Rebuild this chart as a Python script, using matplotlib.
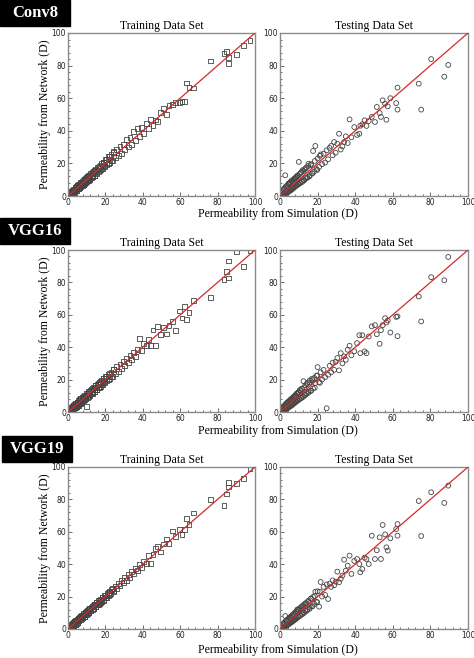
import matplotlib
matplotlib.use('Agg')
import matplotlib.pyplot as plt
from matplotlib.patches import Rectangle
from matplotlib.ticker import MultipleLocator

models = ['Conv8', 'VGG16', 'VGG19']
titles = ['Training Data Set', 'Testing Data Set']
axis_max = 100

# permeability from simulation (D), shared by the three networks
train_sim = [0.3, 0.6, 1.0, 1.2, 1.5, 1.8, 2.0, 2.3, 2.6, 3.0,
             3.2, 3.5, 3.9, 4.2, 4.5, 4.8, 5.1, 5.5, 5.8, 6.2,
             6.5, 6.9, 7.2, 7.6, 8.0, 8.3, 8.7, 9.1, 9.5, 9.9,
             10.3, 10.8, 11.2, 11.6, 12.1, 12.5, 13.0, 13.4, 13.9, 14.3,
             14.8, 15.3, 15.8, 16.3, 16.8, 17.3, 17.9, 18.4, 19.0, 19.6,
             20.2, 20.9, 21.6, 22.3, 23.0, 23.8, 24.5, 25.3, 26.1, 26.9,
             27.8, 28.6, 29.5, 30.4, 31.3, 32.2, 33.2, 34.1, 35.1, 36.1,
             37.2, 38.3, 39.4,
             40.5, 41.8, 43.0, 44.3, 45.5, 46.8, 48.0, 49.5, 51.0, 52.5,
             54.0, 55.8, 57.5, 59.5, 61.0, 62.4, 63.5, 64.7, 67.0,
             76.0, 83.4, 84.7, 86.0, 86.0, 90.0, 94.0, 97.3]
train_sim_low = [0.4, 0.9, 1.4, 1.9, 2.4, 2.9, 3.4, 3.9, 4.4, 4.9,
                 5.4, 5.9, 6.4, 6.9, 7.4, 7.9, 8.4, 8.9, 9.4, 9.9,
                 10.5, 11.1, 11.7, 12.3, 12.9, 13.5, 14.1, 14.7, 15.4, 16.1,
                 16.8, 17.5, 18.2, 19.0, 19.8, 20.6, 21.5, 22.4, 23.4, 24.5]

test_sim = [0.4, 0.8, 1.2, 1.6, 2.0, 2.4, 2.8, 3.2, 3.6, 4.0,
            4.4, 4.8, 5.2, 5.6, 6.0, 6.4, 6.8, 7.2, 7.6, 8.0,
            8.4, 8.8, 9.2, 9.6, 10.0, 10.5, 11.0, 11.5, 12.0, 12.5,
            13.0, 13.5, 14.0, 14.6, 15.2, 15.8, 16.4, 17.0, 17.6, 18.2,
            18.8, 19.4, 20.0, 20.8, 21.6, 22.4, 23.2, 24.0, 24.8, 25.6,
            26.4, 27.2, 28.0, 28.8, 29.6, 30.5, 31.4, 32.3, 33.2, 34.1,
            35.0, 36.0, 37.0, 38.0, 39.5,
            41.0, 42.2, 42.7, 43.8, 45.0, 46.0, 47.2, 48.8, 50.5, 51.5,
            53.0, 53.7, 54.6, 55.9, 56.6, 57.3, 58.7, 61.8, 62.5, 62.5,
            73.8, 75.1, 80.4, 87.4, 89.5]
test_sim_low = [0.3, 0.7, 1.1, 1.5, 1.9, 2.3, 2.7, 3.1, 3.5, 3.9,
                4.3, 4.7, 5.1, 5.5, 5.9, 6.3, 6.7, 7.1, 7.5, 7.9,
                8.3, 8.7, 9.1, 9.5, 9.9, 10.4, 10.9, 11.4, 11.9, 12.4,
                12.9, 13.6, 14.3, 15.0, 15.7, 16.5, 17.3, 18.5, 19.8, 21.2]

# permeability from network (D)
conv8_train = [1.2, 0.2, 2.1, 0.5, 2.4, 1.0, 3.1, 1.5, 3.4, 2.0,
               4.3, 2.6, 5.0, 3.2, 5.6, 3.7, 6.3, 4.4, 7.0, 5.1,
               7.8, 5.7, 8.6, 6.4, 9.4, 7.0, 10.1, 7.9, 11.0, 8.6,
               11.9, 9.4, 12.8, 10.3, 13.9, 11.0, 14.6, 12.1, 15.7, 12.8,
               16.5, 13.9, 17.6, 14.8, 18.3, 15.9, 19.8, 16.9, 20.8, 18.2,
               22.4, 19.3, 24.1, 20.8, 25.6, 22.0, 27.2, 23.4, 28.3, 24.8,
               30.6, 26.1, 31.8, 28.4, 34.6, 30.1, 35.9, 31.5, 39.4, 34.0,
               41.6, 36.5, 42.0,
               38.3, 44.5, 41.2, 47.0, 43.5, 46.6, 45.5, 51.2, 53.6, 50.0,
               55.7, 56.2, 57.6, 57.5, 57.8, 58.2, 69.3, 66.7, 66.3,
               82.8, 87.3, 88.8, 84.8, 81.4, 86.7, 92.5, 95.3]
conv8_train_low = [1.5, 0.3, 0.6, 3.0, 1.6, 4.1, 2.3, 5.2, 3.5, 6.3,
                   4.5, 7.2, 5.3, 8.4, 6.2, 9.1, 7.2, 10.4, 8.1, 11.3,
                   9.3, 12.5, 10.4, 13.5, 11.6, 14.8, 12.8, 16.0, 14.1, 17.5,
                   15.4, 18.9, 16.6, 20.6, 18.4, 22.3, 20.0, 24.1, 21.5, 26.6]

vgg16_train = [0.9, 1.8, 0.4, 2.3, 0.9, 3.0, 1.3, 3.4, 1.8, 4.1,
               2.3, 4.8, 2.9, 5.5, 3.4, 6.2, 4.0, 6.9, 4.6, 7.5,
               5.3, 8.3, 6.0, 9.0, 6.8, 9.7, 7.5, 10.5, 8.4, 3.5,
               11.6, 9.5, 12.6, 10.2, 13.6, 11.3, 14.5, 12.0, 15.3, 12.9,
               16.6, 13.8, 17.2, 15.0, 18.4, 15.8, 19.7, 17.0, 20.6, 18.3,
               21.9, 19.6, 23.4, 20.9, 24.7, 21.8, 26.2, 23.8, 27.9, 25.2,
               29.6, 27.0, 31.3, 28.6, 33.2, 30.4, 35.0, 32.3, 36.8, 34.4,
               38.6, 45.5, 38.1,
               42.5, 40.8, 45.0, 41.2, 50.6, 40.9, 53.0, 47.8, 52.0, 48.2,
               53.6, 55.9, 50.5, 62.4, 58.0, 65.3, 57.0, 61.5, 68.7,
               70.8, 81.7, 86.6, 93.2, 82.7, 98.8, 90.0, 99.6]
vgg16_train_low = [0.2, 1.6, 0.5, 2.9, 1.5, 4.0, 2.5, 5.3, 3.2, 6.1,
                   4.2, 7.4, 5.2, 8.1, 6.3, 9.2, 7.0, 10.2, 8.2, 11.4,
                   9.0, 12.6, 10.5, 13.8, 11.4, 14.9, 12.6, 16.2, 14.0, 17.6,
                   15.3, 19.0, 16.9, 20.5, 18.5, 22.1, 20.1, 24.0, 21.8, 26.4]

vgg19_train = [0.8, 1.5, 0.5, 2.0, 1.0, 2.6, 1.4, 3.1, 1.9, 3.8,
               2.4, 4.4, 3.0, 5.1, 3.6, 5.8, 4.2, 6.4, 4.9, 7.1,
               5.6, 7.9, 6.3, 8.6, 7.1, 9.3, 7.8, 10.1, 8.6, 10.9,
               9.4, 11.9, 10.3, 12.6, 11.1, 13.6, 12.0, 14.5, 12.9, 15.4,
               13.8, 16.4, 14.8, 17.4, 15.8, 18.4, 16.9, 19.6, 18.0, 20.8,
               19.3, 22.1, 20.6, 23.5, 22.0, 25.0, 23.5, 26.6, 25.2, 28.3,
               26.7, 30.0, 28.5, 31.8, 30.0, 33.6, 32.0, 35.6, 34.0, 37.5,
               36.0, 39.8, 38.2,
               41.5, 40.6, 45.5, 40.5, 46.0, 49.5, 51.0, 47.5, 52.5, 55.6,
               53.0, 60.5, 57.0, 61.2, 58.1, 61.5, 68.1, 64.5, 71.6,
               79.8, 76.4, 83.3, 90.3, 87.6, 90.0, 92.8, 99.2]
vgg19_train_low = [1.0, 0.2, 2.2, 1.0, 3.4, 1.9, 4.4, 2.8, 5.4, 3.9,
                   6.4, 4.9, 7.5, 5.9, 8.5, 6.9, 9.4, 7.9, 10.5, 8.9,
                   11.6, 10.1, 12.6, 11.3, 13.9, 12.5, 15.2, 13.6, 16.5, 15.0,
                   17.9, 16.4, 19.3, 17.8, 20.9, 19.4, 22.6, 21.1, 24.5, 23.3]

conv8_test = [1.8, 0.2, 2.9, 0.6, 4.0, 1.0, 12.7, 1.8, 5.2, 2.5,
              7.3, 3.0, 8.0, 3.9, 9.2, 4.5, 8.8, 5.4, 10.5, 6.0,
              11.2, 6.7, 12.5, 7.5, 20.9, 8.2, 14.2, 9.0, 15.8, 9.8,
              16.3, 11.0, 17.5, 11.5, 19.8, 12.8, 19.0, 14.0, 27.6, 15.0,
              30.7, 16.5, 23.0, 17.8, 25.5, 19.5, 26.0, 20.5, 28.0, 22.5,
              29.5, 30.7, 25.0, 33.1, 26.5, 32.1, 38.2, 28.5, 30.5, 33.1,
              36.6, 32.5, 47.0, 36.0, 42.3,
              37.5, 38.2, 43.1, 44.0, 46.4, 43.0, 46.0, 48.5, 45.4, 54.6,
              50.9, 48.5, 58.7, 56.6, 46.8, 55.0, 60.0, 57.0, 66.5, 53.0,
              68.9, 53.0, 84.0, 73.2, 80.4]
conv8_test_low = [0.2, 2.5, 0.4, 3.6, 0.9, 4.8, 1.2, 5.9, 1.8, 6.5,
                  2.4, 7.8, 3.0, 8.3, 3.6, 9.3, 4.4, 10.0, 5.1, 10.9,
                  5.9, 11.8, 6.6, 12.4, 7.2, 13.5, 8.0, 14.6, 8.7, 15.3,
                  9.6, 16.8, 11.0, 18.4, 12.0, 19.5, 13.8, 21.5, 16.0, 24.6]

vgg16_test = [0.5, 2.2, 0.3, 3.0, 0.8, 3.8, 1.5, 4.9, 2.0, 5.6,
              2.8, 6.5, 3.5, 7.4, 4.2, 8.0, 5.0, 9.2, 5.8, 10.0,
              6.5, 11.3, 7.2, 12.0, 8.0, 13.5, 8.8, 14.4, 9.6, 19.0,
              10.5, 16.5, 11.5, 18.0, 12.5, 19.5, 13.2, 20.5, 14.5, 21.0,
              17.9, 22.5, 27.7, 18.5, 24.5, 20.0, 26.0, 21.5, 2.3, 23.0,
              28.5, 24.5, 30.5, 26.0, 31.0, 33.3, 25.7, 36.3, 30.0, 34.3,
              32.2, 38.4, 40.9, 35.0, 37.5,
              42.5, 47.4, 36.3, 47.4, 37.4, 36.3, 46.6, 52.8, 53.6, 48.0,
              42.1, 50.5, 53.6, 57.9, 55.2, 56.5, 49.1, 58.7, 59.0, 46.8,
              71.3, 55.9, 83.2, 81.3, 95.7]
vgg16_test_low = [1.5, 0.2, 2.7, 0.5, 3.5, 0.9, 4.4, 1.6, 5.5, 2.2,
                  6.3, 2.9, 7.2, 3.5, 8.0, 4.1, 8.8, 5.0, 9.6, 5.6,
                  10.5, 6.4, 11.4, 7.1, 12.3, 7.8, 13.4, 8.6, 14.2, 9.4,
                  15.2, 10.5, 17.2, 11.8, 18.3, 13.0, 19.6, 15.0, 22.4, 18.0]

vgg19_test = [1.2, 0.3, 2.5, 0.8, 3.2, 1.2, 8.0, 2.0, 4.8, 2.6,
              5.5, 3.3, 6.4, 4.0, 7.2, 4.8, 8.0, 5.5, 8.9, 6.3,
              9.7, 7.0, 12.0, 7.8, 11.8, 8.6, 12.8, 9.5, 14.0, 10.3,
              15.2, 11.2, 16.0, 12.0, 17.0, 13.2, 18.6, 14.0, 19.8, 15.5,
              23.0, 16.8, 23.3, 13.8, 29.0, 20.0, 26.0, 21.0, 27.5, 18.5,
              28.0, 26.0, 30.0, 27.0, 29.2, 35.4, 28.8, 31.0, 33.0, 42.8,
              36.0, 39.1, 45.3, 34.0, 42.0,
              43.2, 40.1, 35.0, 37.0, 44.0, 43.2, 40.1, 57.6, 43.2, 48.6,
              56.6, 43.2, 64.2, 58.4, 50.4, 48.4, 56.0, 61.7, 64.8, 57.6,
              79.0, 57.4, 84.4, 77.8, 88.5]
vgg19_test_low = [0.1, 2.0, 0.5, 3.0, 0.8, 4.0, 1.4, 5.0, 2.1, 5.8,
                  2.6, 6.7, 3.4, 7.5, 4.0, 8.3, 4.6, 9.2, 5.4, 10.1,
                  6.0, 10.9, 6.8, 11.9, 7.5, 12.8, 8.3, 13.8, 9.1, 14.7,
                  10.0, 15.9, 11.2, 17.4, 12.4, 18.8, 14.0, 20.4, 16.5, 23.0]

net_train = [conv8_train + conv8_train_low,
             vgg16_train + vgg16_train_low,
             vgg19_train + vgg19_train_low]
net_test = [conv8_test + conv8_test_low,
            vgg16_test + vgg16_test_low,
            vgg19_test + vgg19_test_low]
sim_train = train_sim + train_sim_low
sim_test = test_sim + test_sim_low

W, H = 474, 658
fig = plt.figure(figsize=(W / 100, H / 100), dpi=100)

# axes frames in pixels: (top, bottom) per row, (left, right) per column
row_px = [(33, 196), (250, 412), (467, 629)]
col_px = [(68, 255), (280, 468)]
box_px = [(0, 0, 70, 26), (0, 218, 70, 26), (2, 436, 70, 26)]
xlabel_y = [214, 431, 650]

serif = 'Liberation Serif'

for r, model in enumerate(models):
    top, bot = row_px[r]
    for c in range(2):
        left, right = col_px[c]
        ax = fig.add_axes([left / W, 1 - bot / H, (right - left) / W, (bot - top) / H])
        if c == 0:
            xs, ys, mk = sim_train, net_train[r], 's'
        else:
            xs, ys, mk = sim_test, net_test[r], 'o'
        ax.scatter(xs, ys, marker=mk, s=12, facecolors='none',
                   edgecolors='#444444', linewidths=0.6, zorder=2)
        ax.plot([0, axis_max], [0, axis_max], color='#d42a2a', lw=0.9, zorder=3)
        ax.set_xlim(0, axis_max)
        ax.set_ylim(0, axis_max)
        ax.xaxis.set_major_locator(MultipleLocator(20))
        ax.yaxis.set_major_locator(MultipleLocator(20))
        ax.xaxis.set_minor_locator(MultipleLocator(4))
        ax.yaxis.set_minor_locator(MultipleLocator(4))
        ax.tick_params(which='both', direction='in', colors='#555555',
                       labelcolor='#222222', labelsize=5.5, pad=1.5, width=0.6)
        ax.tick_params(which='major', length=3)
        ax.tick_params(which='minor', length=1.5)
        for sp in ax.spines.values():
            sp.set_color('#8a8a8a')
            sp.set_linewidth(1.0)
        ax.set_title(titles[c], family=serif, fontsize=8.5, pad=3)

    # model name box
    bx, by, bw, bh = box_px[r]
    fig.add_artist(Rectangle((bx / W, 1 - (by + bh) / H), bw / W, bh / H,
                             transform=fig.transFigure, color='black'))
    fig.text((bx + bw / 2) / W, 1 - (by + bh / 2) / H, model, color='white',
             family=serif, fontweight='bold', fontsize=12,
             ha='center', va='center')

    fig.text(45 / W, 1 - (top + bot) / 2 / H, 'Permeability from Network (D)',
             family=serif, fontsize=8.5, rotation=90, ha='center', va='center')
    fig.text(278 / W, 1 - xlabel_y[r] / H, 'Permeability from Simulation (D)',
             family=serif, fontsize=8.5, ha='center', va='center')

fig.savefig('out.png', dpi=100)
